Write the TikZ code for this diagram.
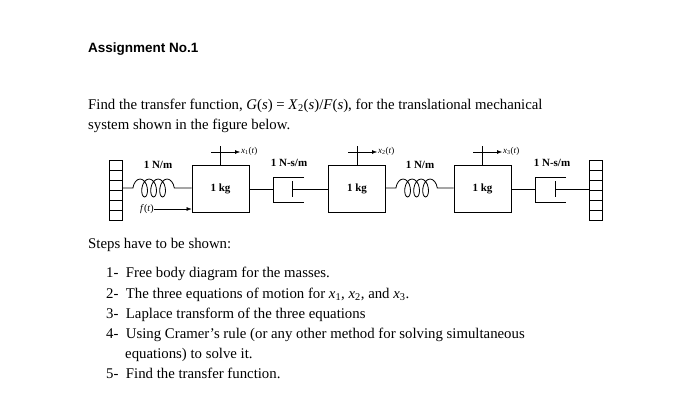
\documentclass[tikz,border=0pt]{standalone}
\usepackage{fontspec}
\setmainfont{Liberation Serif}
\newfontfamily\arial{Liberation Sans}
\usetikzlibrary{decorations.pathmorphing,arrows.meta}
\begin{document}
\begin{tikzpicture}[x=1pt,y=-1pt,
  body/.style={font=\fontsize{14.8}{17}\selectfont,anchor=base west,inner sep=0},
  lbl/.style={font=\bfseries\fontsize{11}{13}\selectfont,inner sep=0},
  mass/.style={draw,thick,minimum width=57pt,minimum height=47pt,font=\bfseries\fontsize{11}{13}\selectfont,inner sep=0},
  wall/.style={draw,thick,minimum width=13pt,minimum height=60pt,inner sep=0},
  spr/.style={thick,decorate,decoration={coil,aspect=0.55,segment length=9pt,amplitude=9pt,pre length=10pt,post length=10pt}},
  ln/.style={thick}]
\useasboundingbox (0,0) rectangle (700,407);
\node[font=\arial\bfseries\fontsize{13.5}{16}\selectfont,anchor=base west,inner sep=0] (t) at (88,52) {Assignment No.1};
\node[body] (l1) at (88,109) {Find the transfer function, \textit{G}(\textit{s}) = \textit{X}\textsubscript{2}(\textit{s})/\textit{F}(\textit{s}), for the translational mechanical};
\node[body] (l2) at (88,129) {system shown in the figure below.};
% walls
\node[wall] (w1) at (116,190) {};
\node[wall] (w2) at (596,190) {};
\foreach \yy in {170,180,190,200,210} {\draw[thin] (110,\yy) -- (123,\yy); \draw[thin] (590,\yy) -- (603,\yy);}
% masses
\node[mass] (m1) at (220.5,188.5) {1 kg};
\node[mass] (m2) at (357,188.5) {1 kg};
\node[mass] (m3) at (482.5,188.5) {1 kg};
% springs
\draw[spr] (w1.east |- 0,188) -- (m1.west |- 0,188);
\node[lbl] (k1) at (158,165) {1 N/m};
\draw[spr] (m2.east |- 0,188) -- (m3.west |- 0,188);
\node[lbl] (k2) at (420,165) {1 N/m};
% dashpot 1
\coordinate (d1a) at (273,189);
\draw[ln] (m1.east |- 0,189) -- (d1a);
\draw[ln] (304,177) -- (273,177) -- (273,202) -- (304,202);
\draw[ln] (292,181) -- (292,197);
\draw[ln] (292,189) -- (m2.west |- 0,189);
\node[lbl] (b1) at (289,163) {1 N-s/m};
% dashpot 2
\coordinate (d2a) at (535,189);
\draw[ln] (m3.east |- 0,189) -- (d2a);
\draw[ln] (566,177) -- (535,177) -- (535,202) -- (566,202);
\draw[ln] (555,181) -- (555,197);
\draw[ln] (555,189) -- (w2.west |- 0,189);
\node[lbl] (b2) at (552,163) {1 N-s/m};
% displacement markers
\foreach \m/\i/\xx in {m1/1/220,m2/2/357,m3/3/482} {
  \draw[thin] (\xx,165) -- (\xx,146);
  \draw[thin,-{Latex[length=5pt]}] (\xx-9,152) -- (\xx+20,152);
  \node[inner sep=0,anchor=west,font=\fontsize{9}{10}\selectfont] at (\xx+21,151) {\textit{x}\textsubscript{\i}(\textit{t})};
}
% force
\coordinate (f0) at (154,209);
\node[inner sep=0,anchor=east,font=\fontsize{10}{12}\selectfont] (f) at (f0) {\textit{f}(\textit{t})};
\draw[thin,-{Latex[length=5pt]}] (f0) -- (m1.west |- 0,209);
% steps
\node[body] (s0) at (88,248) {Steps have to be shown:};
\node[body] (s1) at (106,277) {1-\ \ Free body diagram for the masses.};
\node[body] (s2) at (106,298) {2-\ \ The three equations of motion for \textit{x}\textsubscript{1}, \textit{x}\textsubscript{2}, and \textit{x}\textsubscript{3}.};
\node[body] (s3) at (106,318) {3-\ \ Laplace transform of the three equations};
\node[body] (s4) at (106,338) {4-\ \ Using Cramer's rule (or any other method for solving simultaneous};
\node[body] (s4b) at (125,358) {equations) to solve it.};
\node[body] (s5) at (106,378) {5-\ \ Find the transfer function.};
\end{tikzpicture}
\end{document}
